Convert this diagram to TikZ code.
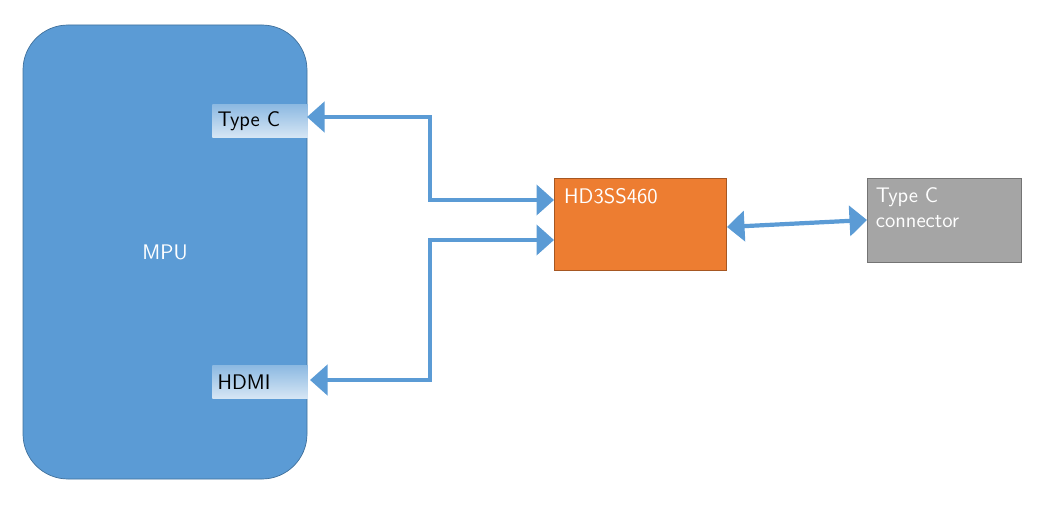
\documentclass[tikz,border=0pt]{standalone}
\usetikzlibrary{arrows.meta,positioning}
\definecolor{mpublue}{HTML}{5B9BD5}
\definecolor{mpuedge}{HTML}{41719C}
\definecolor{chiporange}{HTML}{ED7D31}
\definecolor{conngray}{HTML}{A5A5A5}
\tikzset{
  port/.style={draw=none, top color=mpublue!70!white, bottom color=mpublue!25!white, minimum width=1.9cm, minimum height=0.66cm, inner sep=3pt, anchor=north west, text width=1.7cm, align=left},
  bus/.style={line width=2.4pt, mpublue, {Triangle[width=6mm,length=3.5mm]}-{Triangle[width=6mm,length=3.5mm]}}
}
\begin{document}
\begin{tikzpicture}[x=0.02cm,y=-0.02cm, font=\sffamily\large]
  \useasboundingbox (0,0) rectangle (1053,509);

  % the processor
  \draw[mpuedge, fill=mpublue, rounded corners=0.9cm] (23,25) rectangle (307,479);
  \node[white] (mpu) at (165,252) {MPU};
  \node[port] (typec) at (212,104) {Type C};
  \node[port] (hdmi) at (212,365) {HDMI};

  % switch and connector
  \draw[chiporange!70!black, fill=chiporange] (554,178) rectangle (726,270);
  \node[white, anchor=north west] (switch) at (558,182) {HD3SS460};
  \draw[conngray!70!black, fill=conngray] (867,178) rectangle (1021,262);
  \node[white, anchor=north west, align=left, inner sep=2pt] (conn) at (872,184) {Type C\\connector};

  % buses
  \coordinate (s1) at (554,200);
  \coordinate (s2) at (554,240);
  \coordinate (p1) at (307,117);
  \coordinate (p2) at (310,380);
  \coordinate (s3) at (727,227);
  \coordinate (c1) at (867,220);
  \draw[bus] (p1) -- (430,117) -- (430,200) -- (s1);
  \draw[bus] (p2) -- (430,380) -- (430,240) -- (s2);
  \draw[bus] (s3) -- (c1);
\end{tikzpicture}
\end{document}
